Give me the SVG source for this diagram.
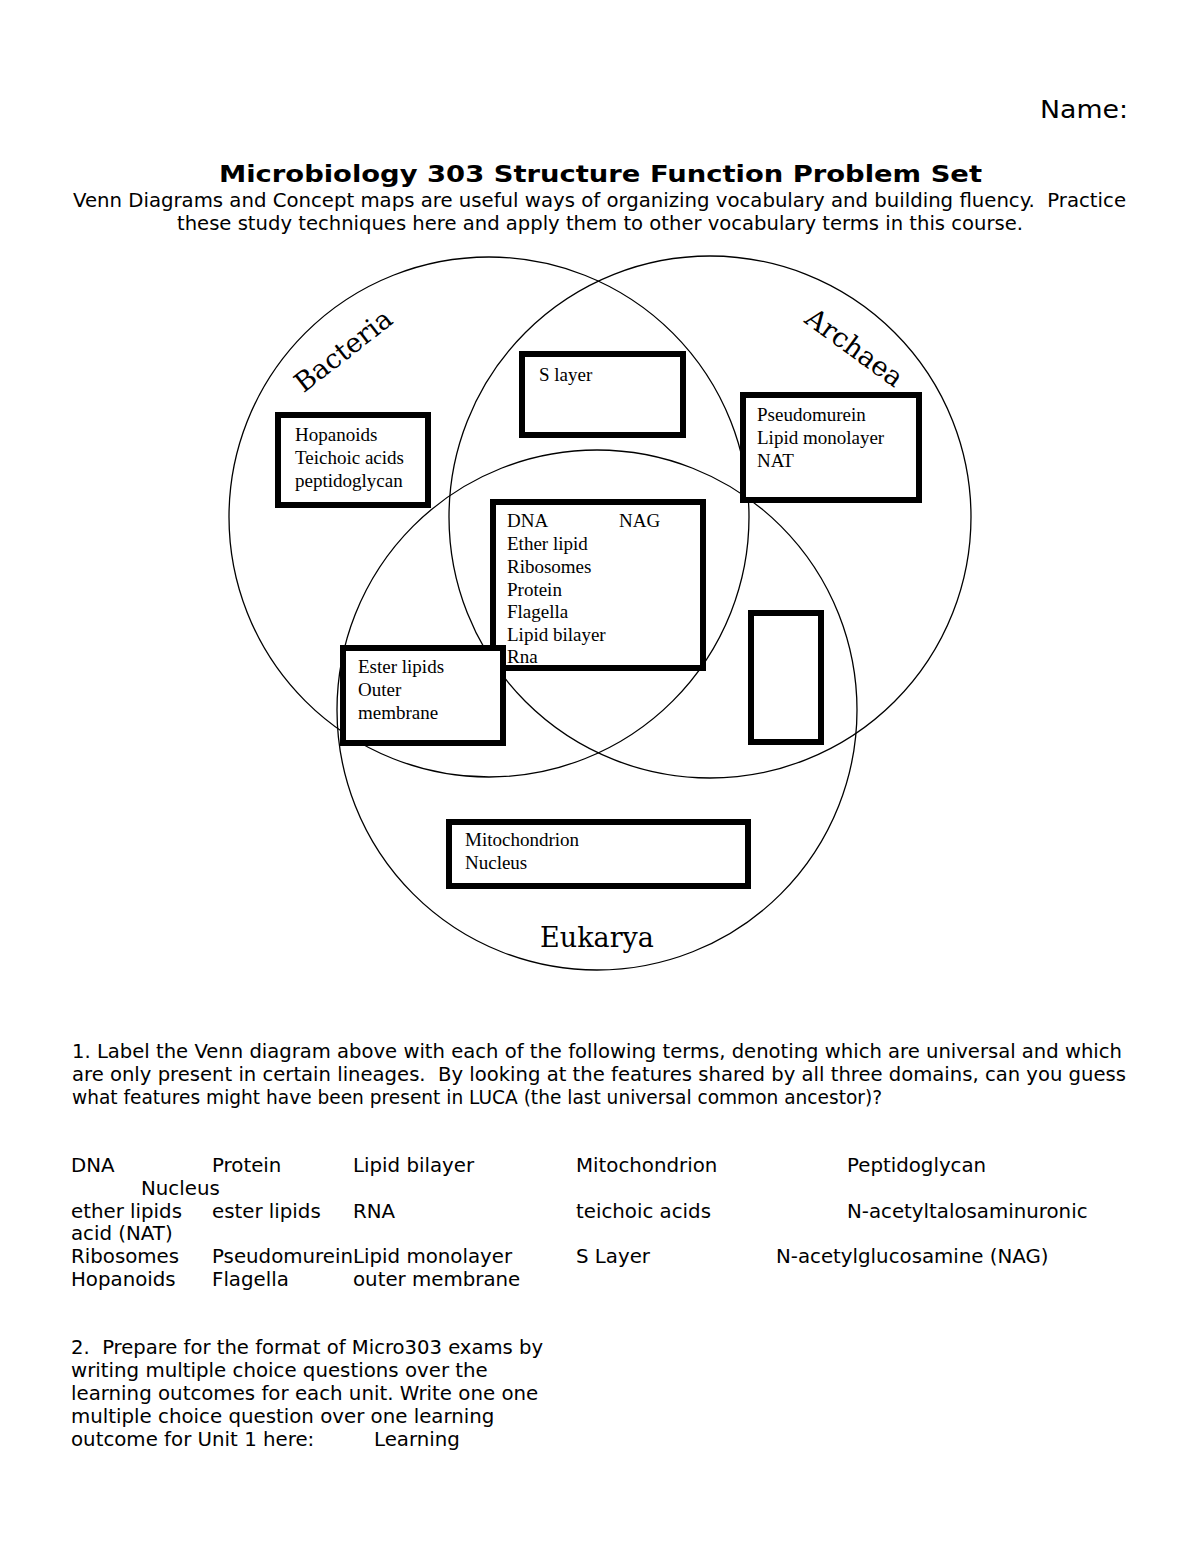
<svg xmlns="http://www.w3.org/2000/svg" width="1200" height="1553" viewBox="0 0 1200 1553">
<style>
text{white-space:pre}
.c{font-family:'DejaVu Sans',sans-serif;font-size:19.8px;fill:#000}
.b{font-family:'Liberation Serif','Times New Roman',serif;font-size:19px;fill:#000}
.d{font-family:'DejaVu Serif','Liberation Serif',serif;font-size:27px;fill:#000}
.circ{fill:none;stroke:#000;stroke-width:1.3}
.box{fill:#fff;stroke:#000;stroke-width:6}
</style>
<rect width="1200" height="1553" fill="#fff"/>
<text class="c" x="1128" y="118" text-anchor="end" style="font-size:24px" textLength="88" lengthAdjust="spacingAndGlyphs">Name:</text>
<text class="c" x="219" y="182" style="font-size:23.5px;font-weight:bold" textLength="763" lengthAdjust="spacingAndGlyphs">Microbiology 303 Structure Function Problem Set</text>
<text class="c" x="73" y="207" textLength="1053" lengthAdjust="spacingAndGlyphs">Venn Diagrams and Concept maps are useful ways of organizing vocabulary and building fluency.  Practice</text>
<text class="c" x="177" y="230" textLength="846" lengthAdjust="spacingAndGlyphs">these study techniques here and apply them to other vocabulary terms in this course.</text>

<g id="circles">
<circle id="bacteria-circle" class="circ" cx="489" cy="517" r="260"/>
<circle id="archaea-circle" class="circ" cx="710" cy="517" r="261"/>
<circle id="eukarya-circle" class="circ" cx="597" cy="710" r="260"/>
</g>
<g id="connectors"></g>

<text class="d" transform="translate(349,358) rotate(-38)" text-anchor="middle">Bacteria</text>
<text class="d" transform="translate(849,355) rotate(36)" text-anchor="middle">Archaea</text>
<text class="d" x="597" y="947" text-anchor="middle">Eukarya</text>

<g id="box-slayer">
<rect class="box" x="522" y="354" width="161" height="81"/>
<text class="b" x="539" y="381">S layer</text>
</g>
<g id="box-bacteria">
<rect class="box" x="278" y="415" width="150" height="90"/>
<text class="b" x="295" y="441">Hopanoids</text>
<text class="b" x="295" y="464">Teichoic acids</text>
<text class="b" x="295" y="487">peptidoglycan</text>
</g>
<g id="box-archaea">
<rect class="box" x="743" y="395" width="176" height="105"/>
<text class="b" x="757" y="421">Pseudomurein</text>
<text class="b" x="757" y="444">Lipid monolayer</text>
<text class="b" x="757" y="467">NAT</text>
</g>
<g id="box-universal">
<rect class="box" x="493" y="502" width="210" height="166"/>
<text class="b" x="507" y="527">DNA</text>
<text class="b" x="619" y="527">NAG</text>
<text class="b" x="507" y="550">Ether lipid</text>
<text class="b" x="507" y="573">Ribosomes</text>
<text class="b" x="507" y="596">Protein</text>
<text class="b" x="507" y="618">Flagella</text>
<text class="b" x="507" y="641">Lipid bilayer</text>
<text class="b" x="507" y="663">Rna</text>
<line x1="490" y1="668" x2="706" y2="668" stroke="#000" stroke-width="6"/>
</g>
<g id="box-bac-euk">
<rect class="box" x="343" y="648" width="160" height="95"/>
<text class="b" x="358" y="673">Ester lipids</text>
<text class="b" x="358" y="696">Outer</text>
<text class="b" x="358" y="719">membrane</text>
</g>
<g id="box-arc-euk">
<rect class="box" x="751" y="613" width="70" height="129"/>
</g>
<g id="box-eukarya">
<rect class="box" x="449" y="822" width="299" height="64"/>
<text class="b" x="465" y="846">Mitochondrion</text>
<text class="b" x="465" y="869">Nucleus</text>
</g>

<g id="question1">
<text class="c" x="72" y="1058" textLength="1050" lengthAdjust="spacingAndGlyphs">1. Label the Venn diagram above with each of the following terms, denoting which are universal and which</text>
<text class="c" x="72" y="1081" textLength="1054" lengthAdjust="spacingAndGlyphs">are only present in certain lineages.  By looking at the features shared by all three domains, can you guess</text>
<text class="c" x="72" y="1104" textLength="810" lengthAdjust="spacingAndGlyphs">what features might have been present in LUCA (the last universal common ancestor)?</text>
</g>
<g id="terms">
<text class="c" x="71" y="1172">DNA</text>
<text class="c" x="212" y="1172">Protein</text>
<text class="c" x="353" y="1172">Lipid bilayer</text>
<text class="c" x="576" y="1172">Mitochondrion</text>
<text class="c" x="847" y="1172">Peptidoglycan</text>
<text class="c" x="141" y="1195">Nucleus</text>
<text class="c" x="71" y="1218">ether lipids</text>
<text class="c" x="212" y="1218">ester lipids</text>
<text class="c" x="353" y="1218">RNA</text>
<text class="c" x="576" y="1218">teichoic acids</text>
<text class="c" x="847" y="1218">N-acetyltalosaminuronic</text>
<text class="c" x="71" y="1240">acid (NAT)</text>
<text class="c" x="71" y="1263">Ribosomes</text>
<text class="c" x="212" y="1263">Pseudomurein</text>
<text class="c" x="353" y="1263">Lipid monolayer</text>
<text class="c" x="576" y="1263">S Layer</text>
<text class="c" x="776" y="1263">N-acetylglucosamine (NAG)</text>
<text class="c" x="71" y="1286">Hopanoids</text>
<text class="c" x="212" y="1286">Flagella</text>
<text class="c" x="353" y="1286">outer membrane</text>
</g>
<g id="question2">
<text class="c" x="71" y="1354" textLength="472" lengthAdjust="spacingAndGlyphs">2.  Prepare for the format of Micro303 exams by</text>
<text class="c" x="71" y="1377">writing multiple choice questions over the</text>
<text class="c" x="71" y="1400">learning outcomes for each unit. Write one one</text>
<text class="c" x="71" y="1423">multiple choice question over one learning</text>
<text class="c" x="71" y="1446">outcome for Unit 1 here:</text>
<text class="c" x="374" y="1446">Learning</text>
</g>
</svg>
